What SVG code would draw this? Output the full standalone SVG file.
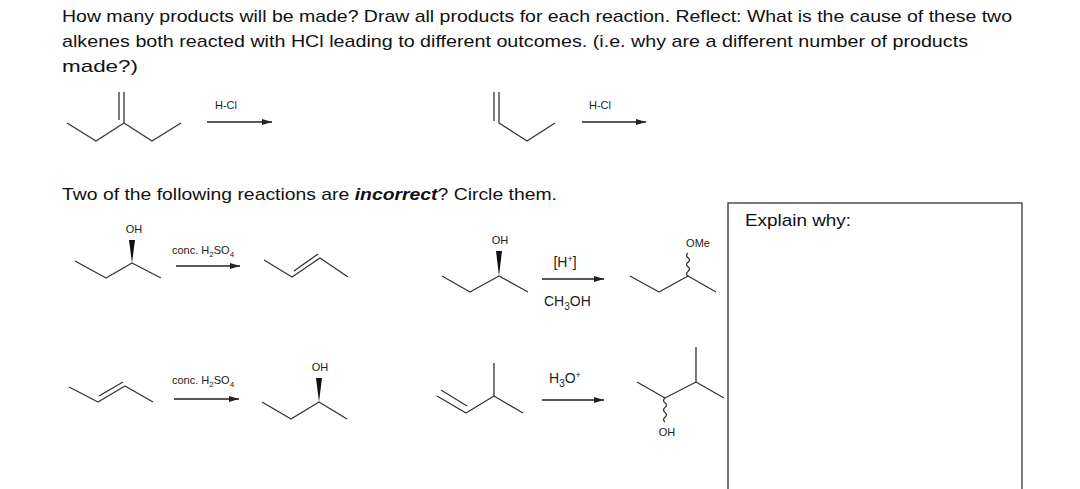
<svg xmlns="http://www.w3.org/2000/svg" width="1080" height="489" viewBox="0 0 1080 489">
<defs>
<marker id="ah" markerWidth="10" markerHeight="6" refX="10" refY="3" orient="auto" markerUnits="userSpaceOnUse"><path d="M0,0 L10,3 L0,6 z" fill="#222"/></marker>
<style>
.b{fill:none;stroke:#333;stroke-width:1.3;stroke-linejoin:round}
.a{stroke:#222;stroke-width:1.3;fill:none;marker-end:url(#ah)}
.t{font-family:"Liberation Sans",Arial,sans-serif;font-size:17px;fill:#111}
.s{font-family:"Liberation Sans",Arial,sans-serif;font-size:11px;fill:#222}
.m{font-family:"Liberation Sans",Arial,sans-serif;font-size:14px;fill:#222}
</style>
</defs>
<rect width="1080" height="489" fill="#fff"/>
<text class="t" x="62" y="22" textLength="950" lengthAdjust="spacingAndGlyphs">How many products will be made? Draw all products for each reaction. Reflect: What is the cause of these two</text>
<text class="t" x="62" y="47" textLength="906" lengthAdjust="spacingAndGlyphs">alkenes both reacted with HCl leading to different outcomes. (i.e. why are a different number of products</text>
<text class="t" x="62" y="72" textLength="76" lengthAdjust="spacingAndGlyphs">made?)</text>
<text class="t" x="62" y="200" textLength="495" lengthAdjust="spacingAndGlyphs">Two of the following reactions are <tspan font-weight="bold" font-style="italic">incorrect</tspan>? Circle them.</text>
<g id="box"><rect x="728" y="203" width="294" height="290" fill="none" stroke="#333" stroke-width="1.3"/>
<text class="t" x="745" y="226" textLength="106" lengthAdjust="spacingAndGlyphs">Explain why:</text></g>
<g id="m1"><polyline class="b" points="67,123 96,141 124,123 152,141 181,123"/><line class="b" x1="124" y1="123" x2="124" y2="92"/><line class="b" x1="119" y1="120" x2="119" y2="92"/></g>
<g id="m2"><polyline class="b" points="499,92 499,123 527,141 555,123"/><line class="b" x1="494" y1="92" x2="494" y2="121"/></g>
<g id="mA"><polyline class="b" points="75,261 106,278 132,263 161,278"/><polygon points="132,263 129,240 135,240" fill="#111"/><text class="s" x="134" y="233" text-anchor="middle">OH</text></g>
<g id="pA"><polyline class="b" points="264,260 292,277 320,258 348,277"/><line class="b" x1="294" y1="271" x2="318" y2="254"/></g>
<g id="mB"><polyline class="b" points="442,276 470,292 499,276 528,292"/><polygon points="499,276 496,251 502,251" fill="#111"/><text class="s" x="500" y="244" text-anchor="middle">OH</text></g>
<g id="pB"><polyline class="b" points="630,276 659,292 688,276 716,292"/><path class="b" d="M688,276 q-3,-2 0,-4.6 q3,-2.3 0,-4.6 q-3,-2.3 0,-4.6 q3,-2.3 0,-4.6 q-3,-2 0,-4.6"/><text class="s" x="698" y="247" text-anchor="middle">OMe</text></g>
<g id="mC"><polyline class="b" points="69,387 98,402 125,386 153,402"/><line class="b" x1="99" y1="396" x2="123" y2="382"/></g>
<g id="pC"><polyline class="b" points="262,402 291,419 319,402 347,419"/><polygon points="319,402 316,378 322,378" fill="#111"/><text class="s" x="320" y="371" text-anchor="middle">OH</text></g>
<g id="mD"><polyline class="b" points="437,396 466,413 494,396 523,413"/><line class="b" x1="441" y1="390" x2="467" y2="406"/><line class="b" x1="494" y1="396" x2="494" y2="363"/></g>
<g id="pD"><polyline class="b" points="637,382 665,398 696,382 724,398"/><line class="b" x1="696" y1="382" x2="696" y2="347"/><path class="b" d="M665,398 q-3,2.4 0,4.8 q3,2.4 0,4.8 q-3,2.4 0,4.8 q3,2.4 0,4.8 q-3,2.4 0,4.8"/><text class="s" x="667" y="436" text-anchor="middle">OH</text></g>
<g id="connectors">
<line class="a" x1="207" y1="122" x2="272" y2="122"/>
<line class="a" x1="582" y1="122" x2="646" y2="122"/>
<line class="a" x1="176" y1="266" x2="240" y2="266"/>
<line class="a" x1="542" y1="279" x2="604" y2="279"/>
<line class="a" x1="174" y1="399" x2="239" y2="399"/>
<line class="a" x1="542" y1="400" x2="604" y2="400"/>
</g>
<g id="labels">
<text class="s" x="226" y="109" text-anchor="middle">H-Cl</text>
<text class="s" x="600" y="109" text-anchor="middle">H-Cl</text>
<text class="s" x="172" y="254">conc. H<tspan font-size="8" dy="3">2</tspan><tspan dy="-3">SO</tspan><tspan font-size="8" dy="3">4</tspan></text>
<text class="s" x="172" y="384">conc. H<tspan font-size="8" dy="3">2</tspan><tspan dy="-3">SO</tspan><tspan font-size="8" dy="3">4</tspan></text>
<text class="m" x="565" y="267" text-anchor="middle">[H<tspan font-size="9" dy="-5">+</tspan><tspan dy="5">]</tspan></text>
<text class="m" x="544" y="306">CH<tspan font-size="10" dy="4">3</tspan><tspan dy="-4">OH</tspan></text>
<text class="m" x="549" y="383">H<tspan font-size="10" dy="4">3</tspan><tspan dy="-4">O</tspan><tspan font-size="9" dy="-5">+</tspan></text>
</g>
</svg>
